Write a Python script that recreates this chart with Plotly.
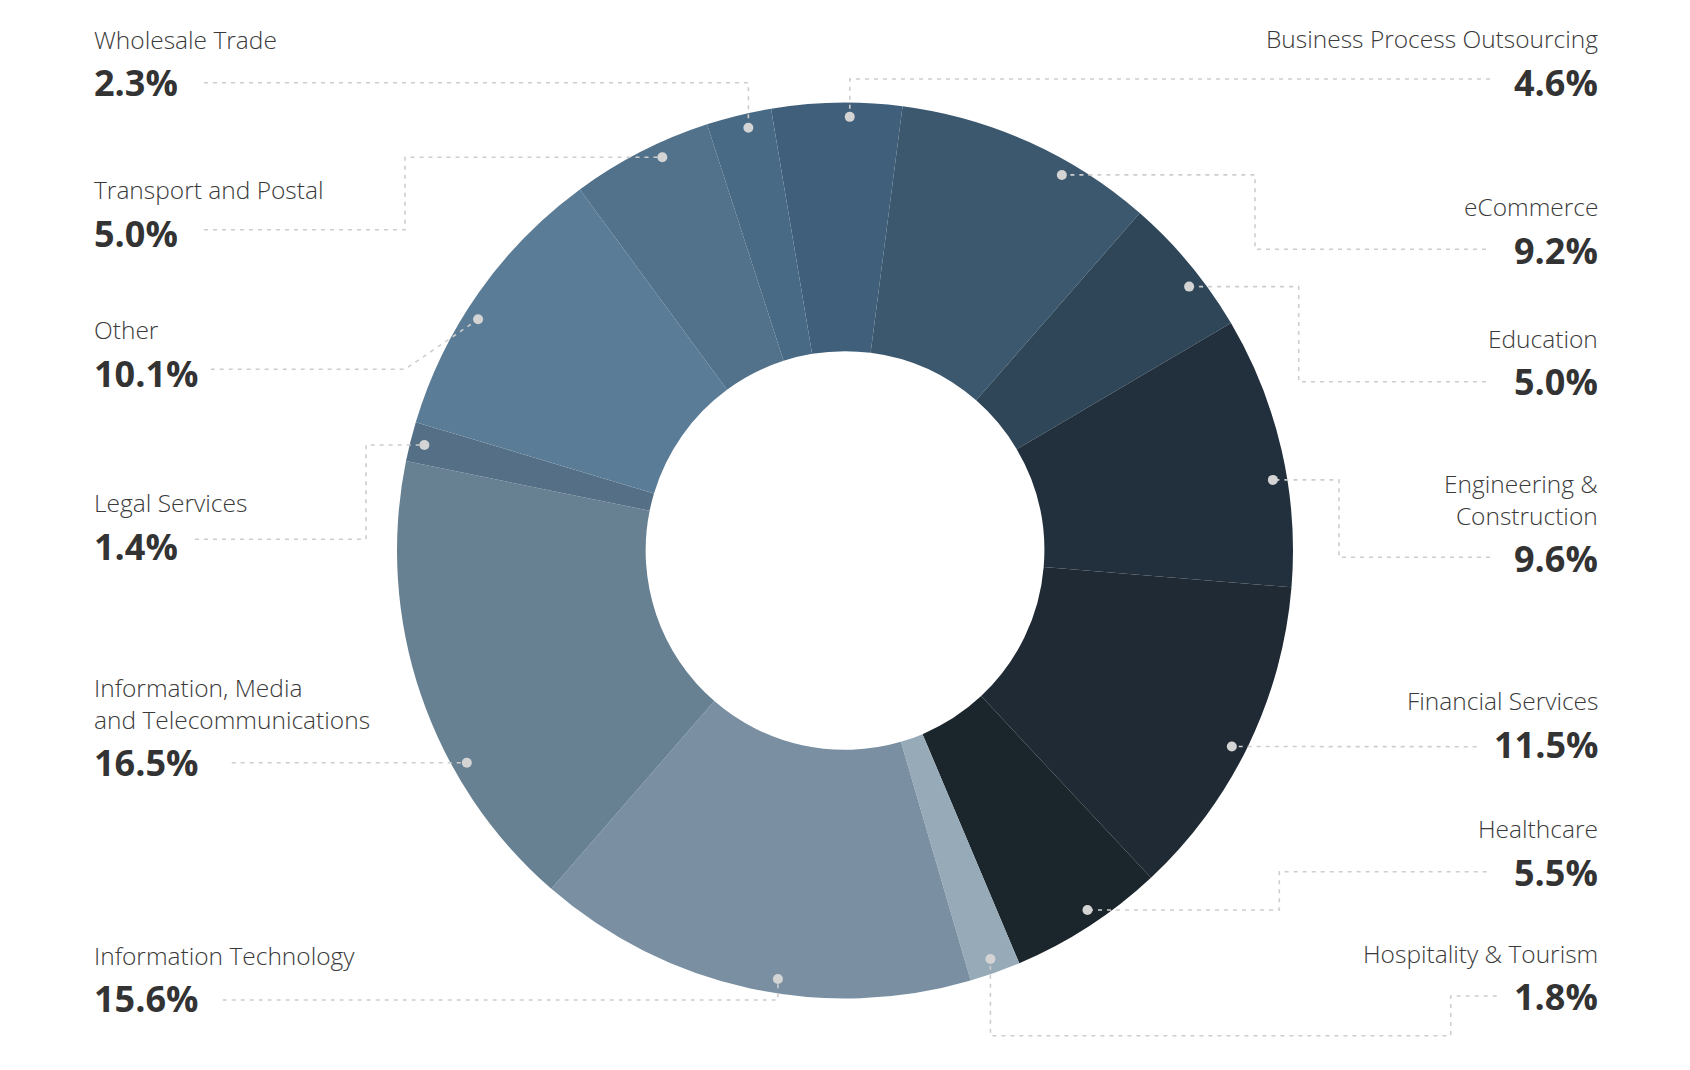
import math
import plotly.graph_objects as go

# Industry split, clockwise from 12 o'clock
categories = [
    "Business Process Outsourcing", "eCommerce", "Education",
    "Engineering &<br>Construction", "Financial Services", "Healthcare",
    "Hospitality & Tourism", "Information Technology",
    "Information, Media<br>and Telecommunications", "Legal Services",
    "Other", "Transport and Postal", "Wholesale Trade",
]
shares = [4.6, 9.2, 5.0, 9.6, 11.5, 5.5, 1.8, 15.6, 16.5, 1.4, 10.1, 5.0, 2.3]
share_labels = ["4.6%", "9.2%", "5.0%", "9.6%", "11.5%", "5.5%", "1.8%",
                "15.6%", "16.5%", "1.4%", "10.1%", "5.0%", "2.3%"]

colors = ["#3f5f7a", "#3c586f", "#2e4657", "#22303d", "#1f2a34", "#1b252c",
          "#97aab8", "#7a8fa2", "#678193", "#557086", "#5b7c96", "#52728b",
          "#486a85"]

W, H = 1690, 1070
OFF = 8                      # page body margin, axes are kept in page pixels
CX, CY = 845, 550.5          # donut centre in px
R_OUT = 448
HOLE = 0.445
ROTATION = -9.5
DOT_R = 0.968 * R_OUT

# label layout: side, centre y of the percentage, where the dot sits in its slice,
# and the leader route ("d" = use the dot coordinate)
side = ["R", "R", "R", "R", "R", "R", "R", "L", "L", "L", "L", "L", "L"]
pct_y = [82, 250, 381.5, 558, 744, 872, 996.5, 998.5, 762, 546, 373, 233, 82.5]
dot_frac = [0.6, 0.67, 0.62, 0.6, 0.525, 0.45, 0.5, 0.44, 0.326, 0.5, 0.42, 0.62, 0.6]
routes = [
    [(1490, 79), ("d", 79)],
    [(1486, 249.3), (1255, 249.3), (1255, "d")],
    [(1486, 381.7), (1298.7, 381.7), (1298.7, "d")],
    [(1490, 557.3), (1339, 557.3), (1339, "d")],
    [(1476.7, 746.7)],
    [(1486.7, 871.7), (1279.3, 871.7), (1279.3, "d")],
    [(1496.7, 996), (1450.7, 996), (1450.7, 1035.7), ("d", 1035.7)],
    [(222.7, 1000), ("d", 1000)],
    [(231.7, 762.7)],
    [(195, 539.3), (366, 539.3), (366, "d")],
    [(210.7, 369.3), (405, 369.3)],
    [(204, 229.7), (405, 229.7), (405, "d")],
    [(204, 82.7), ("d", 82.7)],
]

FW, FH = W - OFF, H - OFF

fig = go.Figure()

fig.add_trace(go.Pie(
    labels=categories, values=shares, sort=False, direction="clockwise",
    rotation=ROTATION, hole=HOLE, textinfo="none", hoverinfo="label+percent",
    marker=dict(colors=colors, line=dict(width=0)), showlegend=False,
    domain=dict(x=[(CX - R_OUT - OFF) / FW, (CX + R_OUT - OFF) / FW],
                y=[(H - CY - R_OUT) / FH, (H - CY + R_OUT) / FH]),
))

# dot positions from the slice angles
total = sum(shares)
dots = []
acc = 0
for v, f in zip(shares, dot_frac):
    a = math.radians(ROTATION + (acc + v * f) / total * 360)
    dots.append((CX + DOT_R * math.sin(a), CY - DOT_R * math.cos(a)))
    acc += v

line_col = "#cdcdcd"
for route, (dx, dy) in zip(routes, dots):
    pts = []
    for px, py in route:
        pts.append((dx if px == "d" else px, dy if py == "d" else py))
    pts.append((dx, dy))
    path = "M " + " L ".join(f"{x:.1f},{y:.1f}" for x, y in pts)
    fig.add_shape(type="path", path=path, xref="x", yref="y", layer="above",
                  line=dict(color=line_col, width=1.6, dash="4px,5px"))

for dx, dy in dots:
    fig.add_shape(type="circle", xref="x", yref="y", layer="above",
                  x0=dx - 5, x1=dx + 5, y0=dy - 5, y1=dy + 5,
                  fillcolor="#d4d4d4", line=dict(width=0))

for cat, lab, s, y in zip(categories, share_labels, side, pct_y):
    x = 91.5 if s == "L" else 1600
    anchor = "left" if s == "L" else "right"
    nlines = cat.count("<br>") + 1
    fig.add_annotation(x=x, y=y, text=lab, showarrow=False, xanchor=anchor,
                       yanchor="middle", align=anchor,
                       font=dict(family="Open Sans", size=36, color="#333333", weight=700))
    fig.add_annotation(x=x, y=y - 43.3 - 15.3 * (nlines - 1), text=cat,
                       showarrow=False, xanchor=anchor, yanchor="middle", align=anchor,
                       font=dict(family="Open Sans", size=24.5, color="#3a3a3a", weight=300))

fig.update_layout(
    width=FW, height=FH, margin=dict(l=0, r=0, t=0, b=0),
    paper_bgcolor="white", plot_bgcolor="white",
    xaxis=dict(range=[OFF, W], visible=False, fixedrange=True),
    yaxis=dict(range=[H, OFF], visible=False, fixedrange=True),
)

fig.write_html("out.html")
